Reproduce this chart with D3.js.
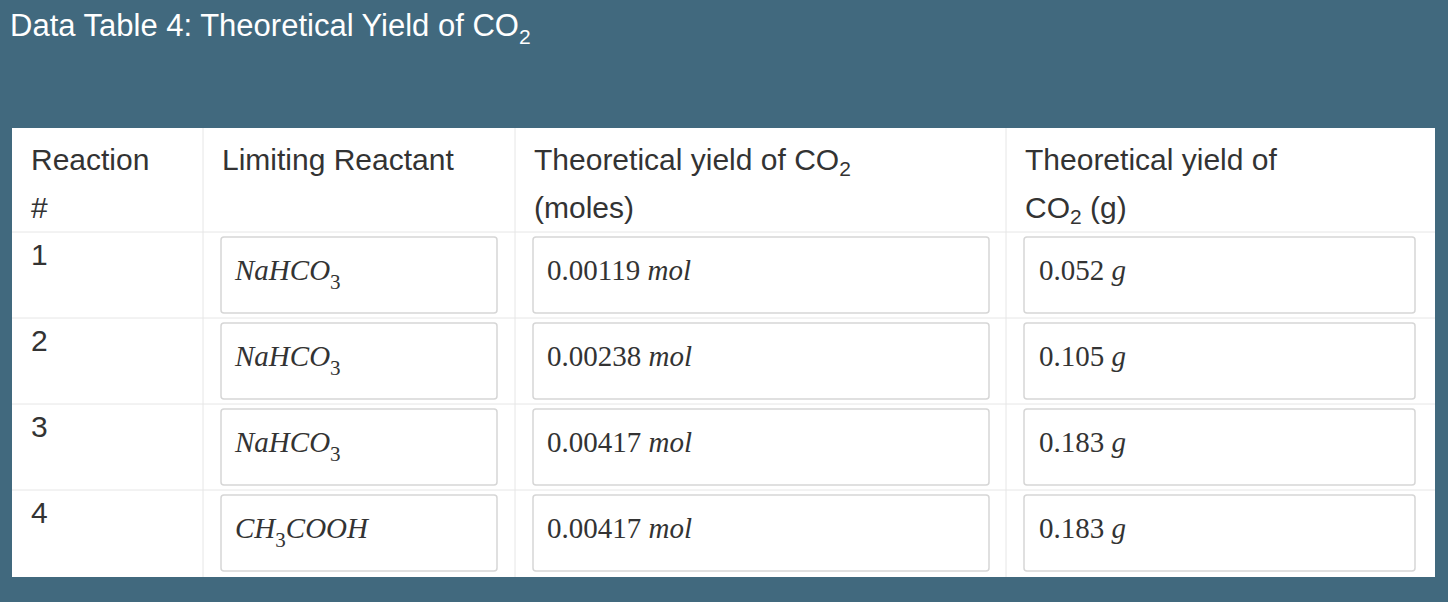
<!DOCTYPE html><html><head><meta charset="utf-8">
<script src="https://cdn.jsdelivr.net/npm/d3@7"></script>
<style>body{margin:0;background:#41697e;}</style></head><body>
<script>
const reactions=["1","2","3","4"];
const limiting=[["NaHCO","3",""],["NaHCO","3",""],["NaHCO","3",""],["CH","3","COOH"]];
const moles=["0.00119","0.00238","0.00417","0.00417"];
const grams=["0.052","0.105","0.183","0.183"];
const colEdges=[12,203,515,1006,1435];
const rowEdges=[128,232,318,404,490,577];
const svg=d3.select("body").append("svg").attr("width",1448).attr("height",602);
const sans="Liberation Sans, Arial, sans-serif", serif="Liberation Serif, DejaVu Serif, serif";
const t=svg.append("text").attr("x",10).attr("y",36).attr("fill","#fff").attr("font-family",sans).attr("font-size",31);
t.append("tspan").text("Data Table 4: Theoretical Yield of CO");
t.append("tspan").attr("font-size",21).attr("dy",8).text("2");
svg.append("rect").attr("x",12).attr("y",128).attr("width",1423).attr("height",449).attr("fill","#fff");
// grid lines
svg.selectAll("line.v").data(colEdges.slice(1,4)).join("line").attr("x1",d=>d).attr("x2",d=>d)
 .attr("y1",128).attr("y2",577).attr("stroke","#e6e6e6");
svg.selectAll("line.h").data(rowEdges.slice(1,5)).join("line").attr("y1",d=>d).attr("y2",d=>d)
 .attr("x1",12).attr("x2",1435).attr("stroke","#e6e6e6");
// header
const hdr=[[["Reaction"],["#"]],[["Limiting Reactant"]],[["Theoretical yield of CO","2"],["(moles)"]],[["Theoretical yield of"],["CO","2"," (g)"]]];
hdr.forEach((lines,c)=>lines.forEach((ln,i)=>{
 const tx=svg.append("text").attr("x",colEdges[c]+19).attr("y",170+i*48).attr("font-family",sans).attr("font-size",30).attr("fill","#333");
 tx.append("tspan").text(ln[0]);
 if(ln[1]){tx.append("tspan").attr("font-size",21).attr("dy",6).text(ln[1]);}
 if(ln[2]){tx.append("tspan").attr("dy",-6).text(ln[2]);}
}));
const boxR=[497,989,1415];
reactions.forEach((r,i)=>{
 const y0=rowEdges[i+1];
 svg.append("text").attr("x",31).attr("y",y0+33).attr("font-family",sans).attr("font-size",30).attr("fill","#333").text(r);
 [1,2,3].forEach((c,k)=>{
  svg.append("rect").attr("x",colEdges[c]+18).attr("y",y0+5).attr("width",boxR[k]-colEdges[c]-18).attr("height",76)
   .attr("rx",3).attr("fill","#fff").attr("stroke","#d6d6d6").attr("stroke-width",1.5);
 });
 const a=svg.append("text").attr("x",235).attr("y",y0+48).attr("font-family",serif).attr("font-size",29).attr("font-style","italic").attr("fill","#333");
 a.append("tspan").text(limiting[i][0]);
 a.append("tspan").attr("dy",9).attr("font-size",21).attr("font-style","normal").text(limiting[i][1]);
 if(limiting[i][2]) a.append("tspan").attr("dy",-9).text(limiting[i][2]);
 const m=svg.append("text").attr("x",547).attr("y",y0+48).attr("font-family",serif).attr("font-size",29).attr("fill","#333");
 m.append("tspan").text(moles[i]+" ");m.append("tspan").attr("font-style","italic").text("mol");
 const g=svg.append("text").attr("x",1039).attr("y",y0+48).attr("font-family",serif).attr("font-size",29).attr("fill","#333");
 g.append("tspan").text(grams[i]+" ");g.append("tspan").attr("font-style","italic").text("g");
});
</script></body></html>
